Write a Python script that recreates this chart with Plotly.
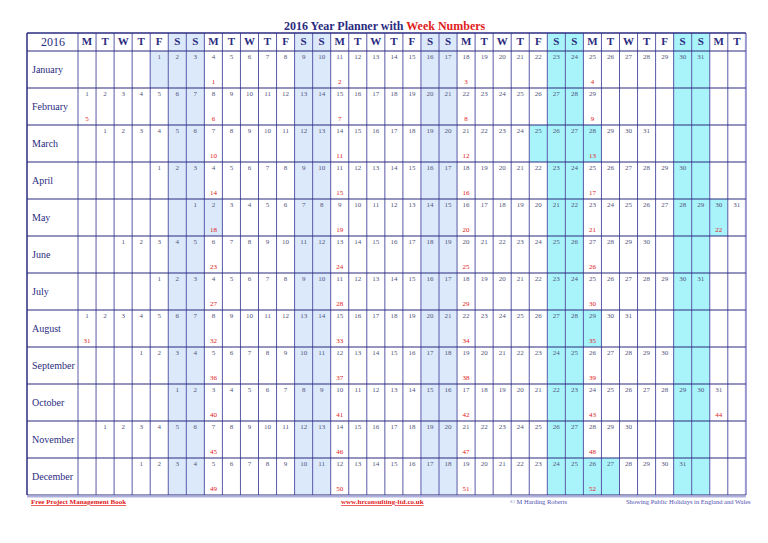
import plotly.graph_objects as go
import datetime as dt

year = 2016
months = ["January","February","March","April","May","June","July","August",
          "September","October","November","December"]
month_start_col = [4, 0, 1, 4, 6, 2, 4, 0, 3, 5, 1, 3]
month_days = [31, 29, 31, 30, 31, 30, 31, 31, 30, 31, 30, 31]
day_letters = ["M","T","W","T","F","S","S"] * 5 + ["M","T"]
holidays = [(1, 1), (3, 25), (3, 28), (5, 2), (5, 30), (8, 29), (12, 26), (12, 27)]

X0, CW, LBL0 = 77.0, 18.05, 26.0
Y0, RH, HDR0 = 50.0, 37.0, 32.0
NAVY = "#2b2b80"
LB = "#dbe9fb"
CY = "#a8f4fa"
ncol = 37

def shade(c):
    return CY if c >= 22 else LB

shapes = []
def rect(x0, y0, x1, y1, fill):
    shapes.append(dict(type="rect", xref="x", yref="y", x0=x0, y0=y0, x1=x1, y1=y1,
                       fillcolor=fill, line=dict(width=0), layer="below"))
def line(x0, y0, x1, y1, color=NAVY, w=1):
    shapes.append(dict(type="line", xref="x", yref="y", x0=x0, y0=y0, x1=x1, y1=y1,
                       line=dict(color=color, width=w)))

ybot = Y0 + 12 * RH
for c, l in enumerate(day_letters):
    if l == "S":
        rect(X0 + c*CW, HDR0, X0 + (c+1)*CW, ybot, shade(c))
for (m, d) in holidays:
    c = month_start_col[m-1] + d - 1
    rect(X0 + c*CW, Y0 + (m-1)*RH, X0 + (c+1)*CW, Y0 + m*RH, shade(c))

for c in range(ncol + 1):
    line(X0 + c*CW, HDR0, X0 + c*CW, ybot, "#5a5aa8", 1)
line(LBL0, HDR0, LBL0, ybot, NAVY, 1.5)
line(X0 + ncol*CW, HDR0, X0 + ncol*CW, ybot, "#9a9ad0", 2)
line(LBL0, HDR0, X0 + ncol*CW, HDR0, NAVY, 1.5)
line(LBL0, Y0, X0 + ncol*CW, Y0, NAVY, 1.2)
for r in range(1, 13):
    line(LBL0, Y0 + r*RH, X0 + ncol*CW, Y0 + r*RH, NAVY, 1.2)
line(LBL0, ybot + 1.5, X0 + ncol*CW, ybot + 1.5, "#b0b0dd", 2)

fig = go.Figure()
fig.add_trace(go.Scatter(x=[X0 + (c+0.5)*CW for c in range(ncol)], y=[HDR0 + 9]*ncol,
    text=day_letters, mode="text",
    textfont=dict(family="Liberation Serif", size=11, color=NAVY, weight="bold"),
    hoverinfo="skip"))
dx, dy, dt_, wx, wy, wt = [], [], [], [], [], []
for m in range(12):
    for d in range(1, month_days[m] + 1):
        c = month_start_col[m] + d - 1
        dx.append(X0 + (c+0.5)*CW); dy.append(Y0 + m*RH + 6); dt_.append(str(d))
        date = dt.date(year, m+1, d)
        if date.weekday() == 0:
            wx.append(X0 + (c+0.5)*CW); wy.append(Y0 + m*RH + 31)
            wt.append(str(date.isocalendar()[1]))
fig.add_trace(go.Scatter(x=dx, y=dy, text=dt_, mode="text",
    textfont=dict(family="Liberation Serif", size=7, color="#55557a"), hoverinfo="skip"))
fig.add_trace(go.Scatter(x=wx, y=wy, text=wt, mode="text",
    textfont=dict(family="Liberation Serif", size=7, color="#e02020"), hoverinfo="skip"))
fig.add_trace(go.Scatter(x=[31]*12, y=[Y0 + r*RH + 19 for r in range(12)], text=months,
    mode="text", textposition="middle right",
    textfont=dict(family="Liberation Serif", size=10, color=NAVY), hoverinfo="skip"))

ann = [
    dict(x=(LBL0 + X0)/2, y=HDR0 + 9, text=str(year), showarrow=False,
         font=dict(family="Liberation Serif", size=12, color=NAVY)),
    dict(x=384, y=25, text="<b>2016 Year Planner with </b><b><span style='color:#e02020'>Week Numbers</span></b>",
         showarrow=False, font=dict(family="Liberation Serif", size=12, color=NAVY)),
    dict(x=28, y=501, xanchor="left", text="<u><b>Free Project Management Book</b></u>", showarrow=False,
         font=dict(family="Liberation Serif", size=7, color="#e02020")),
    dict(x=381, y=501, text="<u><b>www.hrconsulting-ltd.co.uk</b></u>", showarrow=False,
         font=dict(family="Liberation Serif", size=7, color="#e02020")),
    dict(x=538, y=500, text="\u00a9 M Harding Roberts", showarrow=False,
         font=dict(family="Liberation Serif", size=6.5, color="#5050b0")),
    dict(x=752, y=500, xanchor="right", text="Showing Public Holidays in England and Wales", showarrow=False,
         font=dict(family="Liberation Serif", size=6.5, color="#5050b0")),
]

fig.update_layout(width=768, height=543, margin=dict(l=0, r=0, t=0, b=0),
    plot_bgcolor="white", paper_bgcolor="white", showlegend=False,
    shapes=shapes, annotations=ann,
    xaxis=dict(range=[7, 775], visible=False, fixedrange=True),
    yaxis=dict(range=[550, 7], visible=False, fixedrange=True))
fig.write_html("out.html")
